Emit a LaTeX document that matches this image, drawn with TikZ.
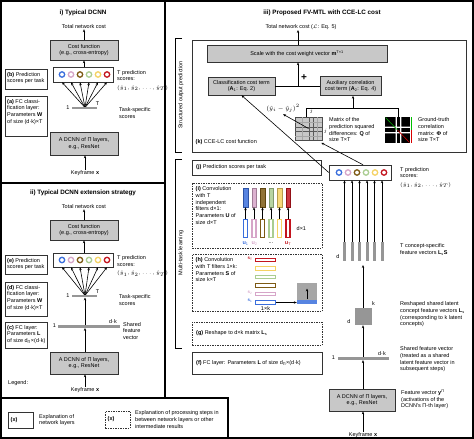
\documentclass[tikz,border=0pt]{standalone}
\usepackage{fontspec}
\setmainfont{Liberation Sans}
\usetikzlibrary{arrows.meta,calc}
\definecolor{bxg}{RGB}{200,200,200}
\definecolor{barg}{RGB}{150,150,150}
\definecolor{cB}{RGB}{58,110,220}
\definecolor{cP}{RGB}{214,165,200}
\definecolor{cN}{RGB}{125,90,20}
\definecolor{cG}{RGB}{170,205,145}
\definecolor{cY}{RGB}{245,210,100}
\definecolor{cR}{RGB}{195,20,30}
\newcommand{\tinyf}{\fontsize{5.5}{6.7}\selectfont}
\newcommand{\ttlf}{\fontsize{6.3}{7.4}\selectfont\bfseries}
\newcommand{\subf}{\fontsize{4.5}{5}\selectfont}
\newcommand{\yhats}{\fontsize{5}{6}\selectfont$(\hat{y}_1,\hat{y}_2,\ldots,\hat{y}_T)$}
\tikzset{
 frame/.style={line width=1.8pt},
 gbox/.style={draw=black!80, line width=0.6pt, fill=bxg, inner sep=0pt, align=center, font=\tinyf},
 wbox/.style={draw=black!80, line width=0.5pt, fill=white, inner sep=0pt},
 lbox/.style={draw=black!80, line width=0.5pt, inner sep=0pt},
 dbox/.style={draw=black!80, line width=0.5pt, dash pattern=on 1.5pt off 1pt, inner sep=0pt},
 txt/.style={font=\tinyf, inner sep=0pt, align=left},
 ctxt/.style={font=\tinyf, inner sep=0pt, align=center},
 arr/.style={-{Stealth[length=3pt,width=2.4pt]}, line width=0.6pt},
 ring/.style={draw=#1, line width=1.3pt, circle, minimum size=5.4pt, inner sep=0pt},
 brk/.style={line width=0.6pt},
}
\begin{document}
\begin{tikzpicture}[x=1pt,y=-1pt]
\useasboundingbox (0,0) rectangle (474,439);
% ================= Panel i =================
\node[font=\ttlf] (ti) at (83,13) {i) Typical DCNN};
\node[ctxt] (tc1) at (84,27) {Total network cost};
\node[gbox, minimum width=68pt, minimum height=20pt] (cf1) at (84,50) {Cost function\\(e.g., cross-entropy)};
\draw[arr] (cf1.north) -- (cf1.north |- tc1.south);
\node[wbox, minimum width=60pt, minimum height=15pt] (sc1) at (83,74.5) {};
\draw[arr] (cf1.south |- sc1.north) -- (cf1.south);
\coordinate (fa) at (85,107.5);
\foreach \c [count=\i from 0] in {cB,cP,cN,cG,cY,cR} {
  \node[ring=\c] (ra\i) at ({62+9*\i},74.5) {};
  \draw[arr] (fa) -- (ra\i |- sc1.south);
}
\node[fill=barg, minimum width=25pt, minimum height=2.6pt, inner sep=0] (tb1) at (84.5,108) {};
\node[txt] (one1) at (68,107.5) {1};
\node[txt] (T1) at (97.5,104) {T};
\node[txt, anchor=west] (tss1) at (119,113) {Task-specific\\scores};
\node[txt, anchor=north west] (tps1) at (117,70) {T prediction\\scores:\\[1.5pt]\yhats};
\node[lbox, anchor=north west, minimum width=42pt, minimum height=20pt] (bb) at (5,69) {};
\node[txt, anchor=north west] (bbt) at (7,72) {\textbf{(b)} Prediction\\scores per task};
\node[lbox, anchor=north west, minimum width=42pt, minimum height=40pt] (ba) at (5,96) {};
\node[txt, anchor=north west] (bat) at (7,99) {\textbf{(a)} FC classi-\\fication layer:\\Parameters \textbf{W}\\of size (d·k)×T};
\node[gbox, minimum width=68pt, minimum height=23pt] (dc1) at (84,143.5) {A DCNN of Π layers,\\e.g., ResNet};
\node[ctxt] (kf1) at (85,173) {Keyframe \textbf{x}};
\draw[arr] (kf1.north) -- (kf1.north |- dc1.south);
% ================= Panel ii =================
\node[font=\ttlf] (tii) at (83,193) {ii) Typical DCNN extension strategy};
\node[ctxt] (tc2) at (84,207) {Total network cost};
\node[gbox, minimum width=68pt, minimum height=20pt] (cf2) at (84,230) {Cost function\\(e.g., cross-entropy)};
\draw[arr] (cf2.north) -- (cf2.north |- tc2.south);
\node[wbox, minimum width=60pt, minimum height=14pt] (sc2) at (83,260) {};
\draw[arr] (cf2.south |- sc2.north) -- (cf2.south);
\coordinate (fb) at (85,295.5);
\foreach \c [count=\i from 0] in {cB,cP,cN,cG,cY,cR} {
  \node[ring=\c] (rb\i) at ({62+9*\i},260) {};
  \draw[arr] (fb) -- (rb\i |- sc2.south);
}
\node[fill=barg, minimum width=25pt, minimum height=2.6pt, inner sep=0] (tb2) at (84.5,296) {};
\node[txt] (one2) at (68,295.5) {1};
\node[txt] (T2) at (97.5,291.5) {T};
\node[txt, anchor=west] (tss2) at (119,300) {Task-specific\\scores};
\node[txt, anchor=north west] (tps2) at (117,255.5) {T prediction\\scores:\\[1.5pt]\yhats};
\node[lbox, anchor=north west, minimum width=42pt, minimum height=19pt] (be) at (5,255) {};
\node[txt, anchor=north west] (bet) at (7,258) {\textbf{(e)} Prediction\\scores per task};
\node[lbox, anchor=north west, minimum width=42pt, minimum height=34pt] (bd) at (5,282) {};
\node[txt, anchor=north west] (bdt) at (7,285) {\textbf{(d)} FC classi-\\fication layer:\\Parameters \textbf{W}\\of size (d·k)×T};
\node[fill=barg, minimum width=62pt, minimum height=2.6pt, inner sep=0] (sb2) at (89,326.5) {};
\node[txt] (one2b) at (54.5,325.5) {1};
\node[txt] (dk2) at (113,321.5) {d·k};
\draw[arr] (fb |- sb2.north) -- (fb |- tb2.south);
\node[txt, anchor=north west] (sft2) at (123,322) {Shared\\feature\\vector};
\node[lbox, anchor=north west, minimum width=42pt, minimum height=26pt] (bc) at (5,322) {};
\node[txt, anchor=north west] (bct) at (7,325) {\textbf{(c)} FC layer:\\Parameters \textbf{L}\\of size d\textsubscript{Π}×(d·k)};
\node[gbox, minimum width=68pt, minimum height=22pt] (dc2) at (84,363) {A DCNN of Π layers,\\e.g., ResNet};
\draw[arr] (fb |- dc2.north) -- (fb |- sb2.south);
\node[ctxt] (kf2) at (85,390) {Keyframe \textbf{x}};
\draw[arr] (kf2.north) -- (kf2.north |- dc2.south);
% ================= Legend =================
\node[txt, anchor=west] (lg) at (8,383) {Legend:};
\node[lbox, anchor=north west, minimum width=25pt, minimum height=16pt] (lg1) at (8,412) {};
\node[txt, anchor=west] (lg1t) at (10.5,420) {\textbf{(x)}};
\node[txt, anchor=west] (lg1d) at (39,420) {Explanation of\\network layers};
\node[dbox, anchor=north west, minimum width=25pt, minimum height=17pt] (lg2) at (105,411) {};
\node[txt, anchor=west] (lg2t) at (107.5,419.5) {\textbf{(x)}};
\node[txt, anchor=west] (lg2d) at (135,419.5) {Explanation of processing steps in\\between network layers or other\\intermediate results};
% ================= Panel iii =================
\node[font=\ttlf] (tiii) at (322,12.5) {iii) Proposed FV-MTL with CCE-LC cost};
\node[ctxt] (tc3) at (301,27) {Total network cost ($\mathcal{L}$: Eq. 5)};
\draw[brk] (182,38) -- (175,38) -- (175,152) -- (182,152);
\node[txt, rotate=90] (sop) at (181,95) {Structured output prediction};
\node[wbox, anchor=north west, minimum width=274pt, minimum height=112pt, line width=0.6pt] (sopb) at (192,40) {};
\node[gbox, minimum width=180pt, minimum height=17pt] (scale) at (297,53.5) {Scale with the cost weight vector \textbf{m}\textsuperscript{T×1}};
\draw[arr] (scale.north -| 298,0) -- (298,30);
\node[gbox, minimum width=67pt, minimum height=18pt] (cls) at (241.5,86) {Classification cost term\\(\textbf{A}\textsubscript{1}: Eq. 2)};
\node[gbox, minimum width=61pt, minimum height=19pt] (aux) at (350.5,86) {Auxiliary correlation\\cost term (\textbf{A}\textsubscript{2}: Eq. 4)};
\draw[line width=0.6pt] (cls.east) -- (aux.west);
\coordinate (pj) at (298,86);
\draw[arr] (pj) -- (pj |- scale.south);
\node[font=\bfseries\fontsize{10}{10}\selectfont, inner sep=0] (plus) at (304,77.5) {+};
% Q matrix
\node[draw=black!70, fill=bxg, minimum width=27pt, minimum height=23pt, inner sep=0, line width=0.5pt] (Q) at (308.5,128.5) {};
\draw[black!65, line width=0.6pt] (309,117) -- (309,140) (313,117) -- (313,140) (295,127.5) -- (322,127.5) (295,131.5) -- (322,131.5);
\draw[black!35, line width=0.3pt] (302,117) -- (302,140) (295,122) -- (322,122) (317,117) -- (317,140) (295,136) -- (322,136);
\node[inner sep=0, font=\fontsize{5.5}{6}\selectfont] (jq1) at (311.5,111.5) {$j$};
\node[inner sep=0, font=\fontsize{5.5}{6}\selectfont] (jq2) at (325.5,131) {$j$};
% Phi matrix
\node[fill=black, minimum width=25pt, minimum height=26pt, inner sep=0] (Phi) at (397.5,130) {};
\fill[white] (395.5,117) rectangle (396.8,143) (400,117) rectangle (401.3,143) (385,126.5) rectangle (410,127.8) (385,132) rectangle (410,133.3);
\draw[green!65!black, line width=0.6pt] (385.5,117.5) -- (397.5,130);
\draw[red!80!black, line width=0.6pt] (397.5,130) -- (409.5,142.5);
\draw[green!75!black, line width=1.3pt] (411.8,117) -- (411.8,130);
\draw[red!85!black, line width=1.3pt] (411.8,130) -- (411.8,143);
\draw[brk] (306,117) -- (306,108) -- (398,108) -- (398,117);
\coordinate (jn) at (353,108);
\draw[arr] (jn) -- (jn |- aux.south);
\node[txt, anchor=north west] (qt) at (329,117.5) {Matrix of the\\prediction squared\\differences: \textbf{Q} of\\size T×T};
\node[txt, anchor=north west] (pt) at (418,117.5) {Ground-truth\\correlation\\matrix: \textbf{Φ} of\\size T×T};
\node[inner sep=0, font=\fontsize{6}{6}\selectfont] (lq) at (283,108.5) {$(\hat{y}_i-\hat{y}_j)^2$};
\draw[arr] (Q.center) -- ($(lq.south)+(0,1.5)$);
\node[txt, anchor=west] (kk) at (195.5,142) {\textbf{(k)} CCE-LC cost function};
% (j)
\node[lbox, anchor=north west, minimum width=129pt, minimum height=15pt] (jb) at (192,160) {};
\node[txt, anchor=west] (jt) at (196,167.5) {\textbf{(j)} Prediction scores per task};
% scores iii
\node[wbox, minimum width=62pt, minimum height=15pt] (sc3) at (360,172.5) {};
\foreach \c [count=\i from 0] in {cB,cP,cN,cG,cY,cR} {
  \node[ring=\c] (rc\i) at ({339+9*\i},172.5) {};
}
\draw[arr] (sc3.west) -- (cls.south);
\draw[arr] ($(sc3.north)+(3,0)$) -- ($(Q.south east)+(-1,2.5)$);
\node[txt, anchor=north west] (tps3) at (400,167) {T prediction\\scores:\\[1.5pt]\yhats};
% multi-task bracket
\draw[brk] (182,159) -- (175,159) -- (175,348) -- (182,348);
\node[txt, rotate=90] (mtl) at (181,253) {Multi-task learning};
% (i)
\node[dbox, anchor=north west, minimum width=130pt, minimum height=65pt] (ib) at (192,183) {};
\node[txt, anchor=north west] (it) at (195.5,186.5) {\textbf{(i)} Convolution\\with T\\independent\\filters d×1:\\Parameters \textbf{U} of\\size d×T};
\foreach \c [count=\i from 0] in {cB,cP,cN,cG,cY,cR} {
  \node[fill=\c!85, draw=\c!75!black, line width=0.5pt, minimum width=4.5pt, minimum height=19pt, inner sep=0] (ut\i) at ({245.5+8.5*\i},197.5) {};
  \node[draw=\c, fill=white, line width=1.1pt, minimum width=4pt, minimum height=18pt, inner sep=0] (ub\i) at ({245.5+8.5*\i},228.5) {};
  \draw[arr] (ub\i.north) -- (ut\i.south);
}
\node[txt, text=cB] (u1) at (245.5,244) {\textbf{u}\textsubscript{1}};
\node[txt, text=cP] (u2) at (254.5,244) {\textbf{u}\textsubscript{2}};
\node[txt] (ud) at (271,243) {...};
\node[txt, text=cR] (uT) at (288,244) {\textbf{u}\textsubscript{T}};
\node[txt, anchor=west] (d1) at (296.5,229) {d×1};
% (h)
\node[dbox, anchor=north west, minimum width=130pt, minimum height=57pt] (hb) at (192,254) {};
\node[txt, anchor=north west] (ht) at (195.5,257.5) {\textbf{(h)} Convolution\\with T filters 1×k:\\Parameters \textbf{S} of\\size k×T};
\foreach \c [count=\i from 0] in {cR,cY,cG,cN,cP,cB} {
  \node[draw=\c, fill=white, line width=1.1pt, minimum width=20pt, minimum height=3.6pt, inner sep=0] (sh\i) at (265.5,{260+8.5*\i}) {};
}
\node[inner sep=0, font=\subf, text=cR] (sT) at (250,258.5) {\textbf{s}\textsubscript{T}};
\node[inner sep=0, font=\subf, text=cP] (s2) at (250,292.5) {\textbf{s}\textsubscript{2}};
\node[inner sep=0, font=\subf, text=cB] (s1) at (250,301) {\textbf{s}\textsubscript{1}};
\node[txt] (k1) at (265.5,308.5) {1×k};
\node[fill=barg!85, minimum width=20pt, minimum height=21pt, inner sep=0] (hsq) at (307,293.5) {};
\fill[cB!85] (297,299.5) rectangle (317,304);
\draw[arr] (sh5.east) -- (hsq.west |- sh5.east);
\draw[arr] (307,299) -- (307,288.5);
% (g), (f)
\node[dbox, anchor=north west, minimum width=130pt, minimum height=23pt] (gb) at (192,322) {};
\node[txt, anchor=west] (gt) at (196,333.5) {\textbf{(g)} Reshape to d×k matrix \textbf{L}\textsubscript{s}};
\node[lbox, anchor=north west, minimum width=130pt, minimum height=22pt] (fb3) at (192,352) {};
\node[txt, anchor=west] (ft) at (196,363) {\textbf{(f)} FC layer: Parameters \textbf{L} of size d\textsubscript{Π}×(d·k)};
% right column
\foreach \i in {0,...,5} {
  \node[fill=barg, minimum width=3pt, minimum height=19pt, inner sep=0] (cv\i) at ({344.5+7.5*\i},251.5) {};
  \draw[arr] (cv\i.north) -- (cv\i.north |- sc3.south);
}
\node[txt] (dcv) at (338,257) {d};
\node[txt, anchor=north west] (cvt) at (400,243.5) {T concept-specific\\feature vectors \textbf{L}\textsubscript{s}\textbf{S}};
\node[fill=barg, minimum width=17pt, minimum height=17pt, inner sep=0] (rsq) at (363,316.5) {};
\node[txt] (rk) at (373.5,304) {k};
\node[txt] (rd) at (349,322) {d};
\coordinate (rsqt) at (363,265);
\draw[arr] (rsq.north) -- (rsqt);
\node[txt, anchor=north west] (rst) at (400,301.5) {Reshaped shared latent\\concept feature vectors \textbf{L}\textsubscript{s}\\(corresponding to k latent\\concepts)};
\node[fill=barg, minimum width=51pt, minimum height=2.8pt, inner sep=0] (sb3) at (363.5,358.5) {};
\node[txt] (sb1) at (333.5,357.5) {1};
\node[txt] (sbdk) at (382,354) {d·k};
\draw[arr] (rsq.south |- sb3.north) -- (rsq.south);
\node[txt, anchor=north west] (sbt) at (400,346.5) {Shared feature vector\\(treated as a shared\\latent feature vector in\\subsequent steps)};
\node[gbox, minimum width=66pt, minimum height=22pt] (dc3) at (362,400) {A DCNN of Π layers,\\e.g., ResNet};
\draw[arr] (rsq.south |- dc3.north) -- (rsq.south |- sb3.south);
\node[txt, anchor=north west] (fvt) at (401,389.5) {Feature vector \textbf{y}\textsuperscript{Π}\\(activations of the\\DCNN's Π-th layer)};
\node[ctxt] (kf3) at (363,435) {Keyframe \textbf{x}};
\draw[arr] (kf3.north) -- (kf3.north |- dc3.south);
% ================= Frames =================
\draw[frame] (0.9,0.9) rectangle (473.1,438.1);
\draw[frame] (165,0) -- (165,398);
\draw[frame] (0,183) -- (165,183);
\draw[frame] (0,398) -- (228,398) -- (228,439);
\end{tikzpicture}
\end{document}
